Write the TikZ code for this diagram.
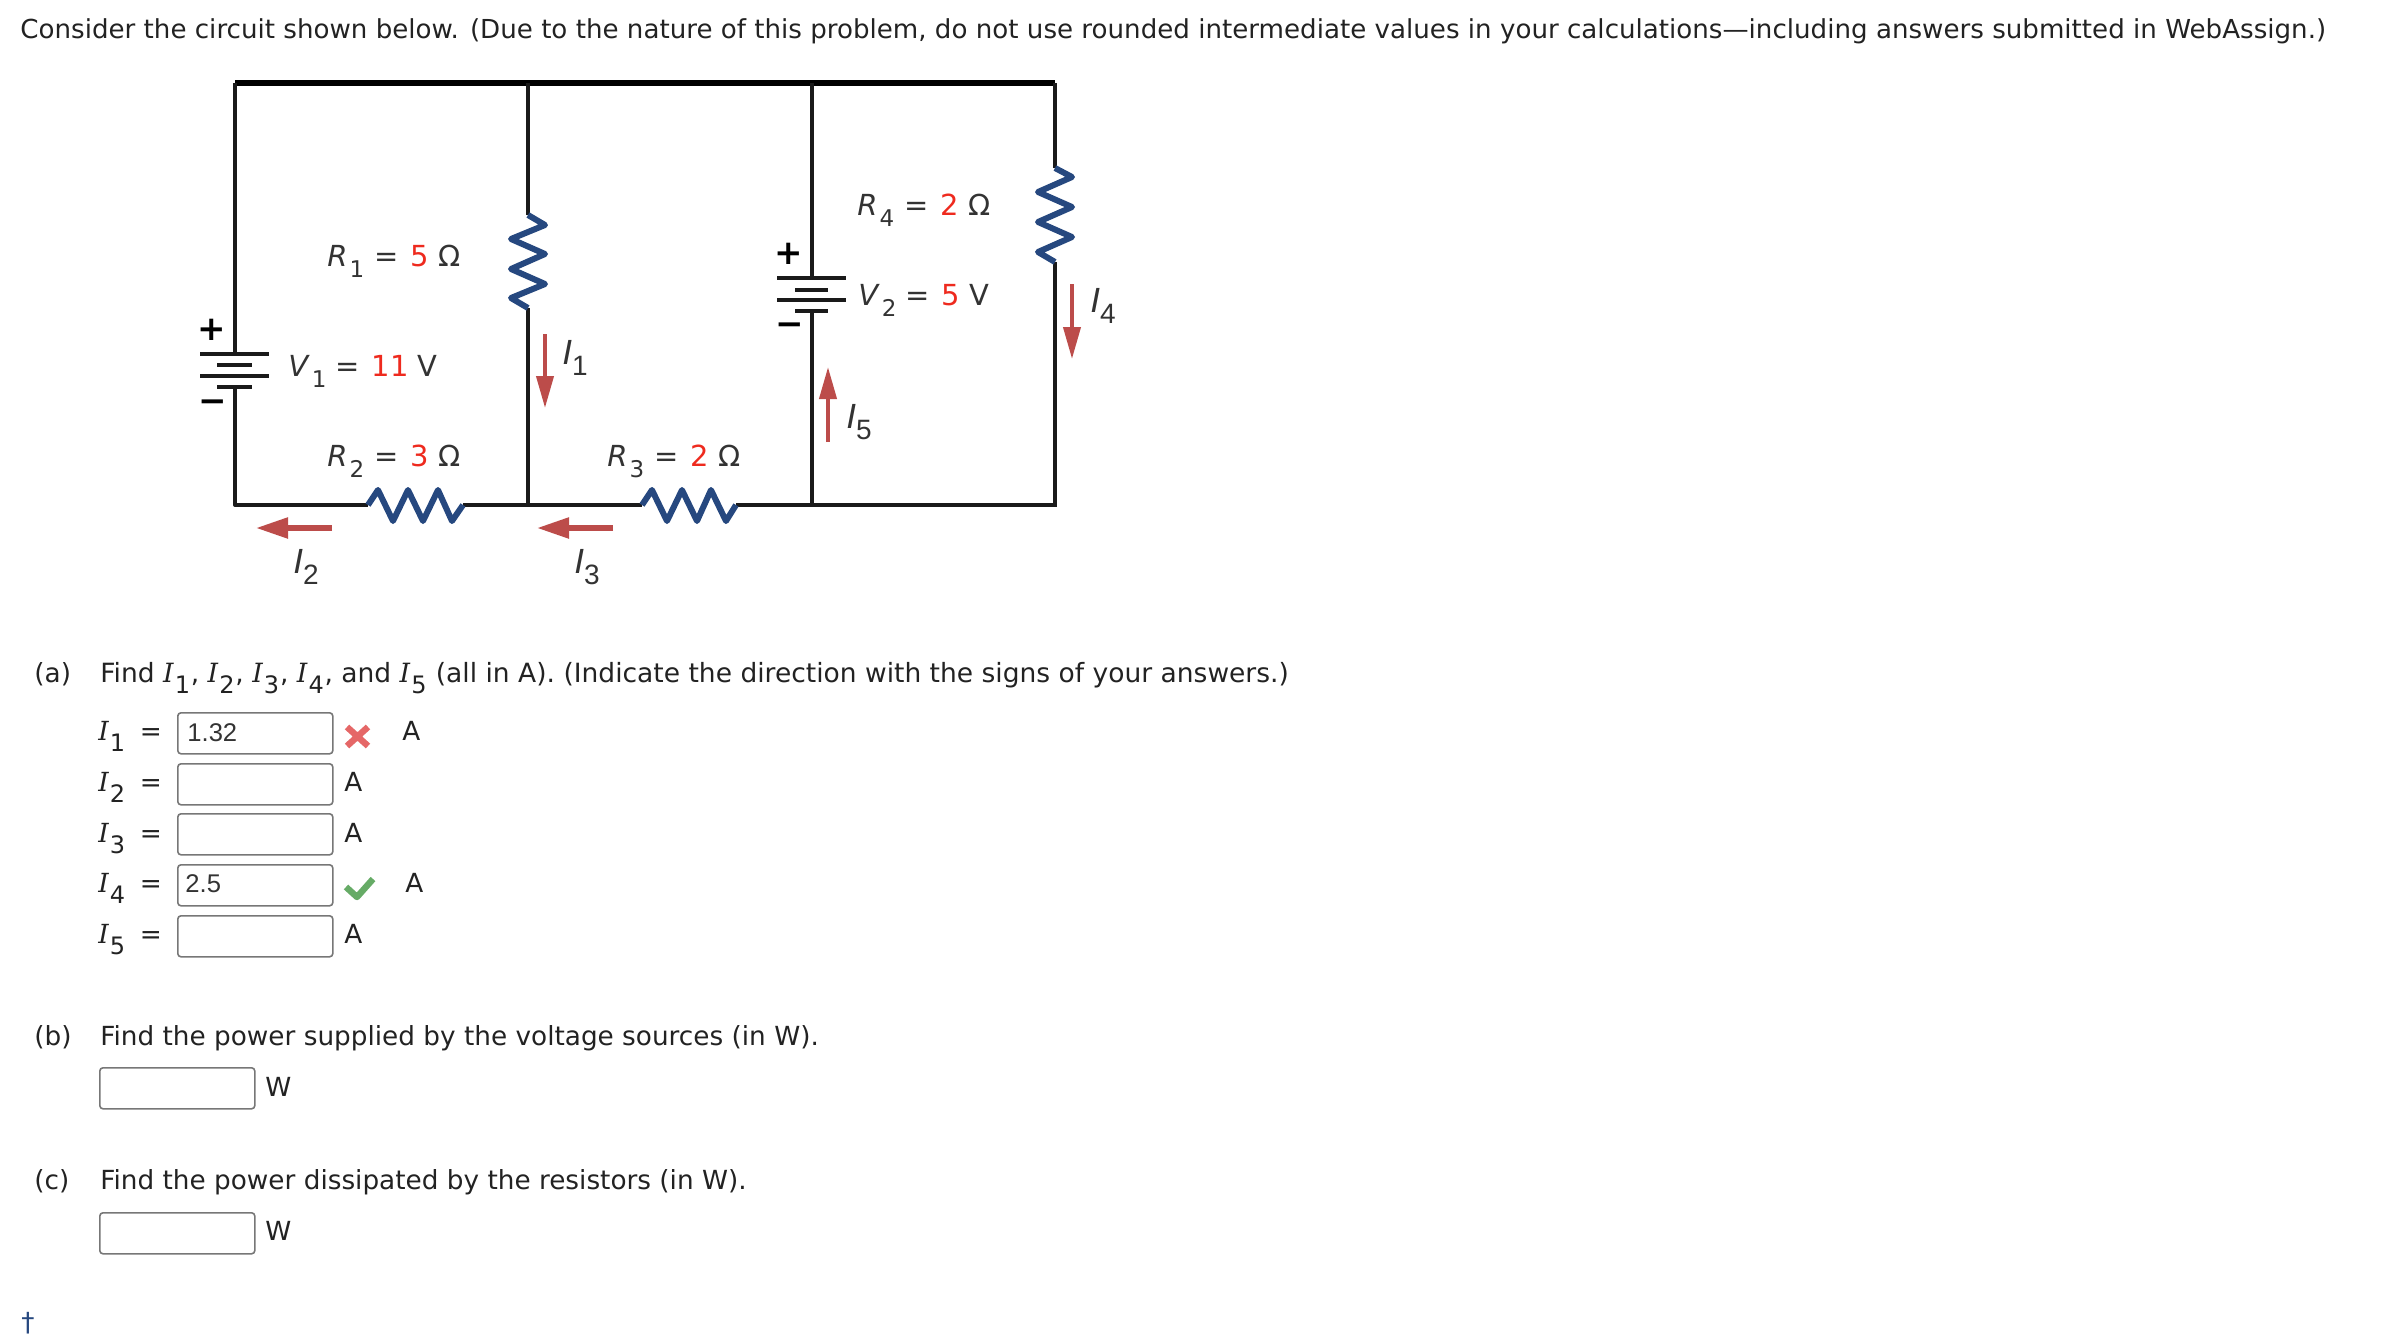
\documentclass[tikz,border=0pt]{standalone}
\usepackage{fontspec}
\usepackage{xcolor}
\setmainfont{DejaVu Sans}
\newfontfamily\ifont{DejaVu Serif}
\newfontfamily\boxfont{Liberation Sans}
\usetikzlibrary{arrows.meta}
\definecolor{wirecol}{HTML}{1A1A1A}
\definecolor{rescol}{HTML}{26487F}
\definecolor{arrcol}{HTML}{BC4C4A}
\definecolor{valcol}{HTML}{EE2A1E}
\definecolor{lblcol}{HTML}{333333}
\definecolor{txtcol}{HTML}{222222}
\definecolor{boxcol}{HTML}{777777}
\newcommand{\lsub}[1]{\raisebox{-0.38em}{\fontsize{11.5}{14}\selectfont #1}}
\newcommand{\csub}[1]{\raisebox{-0.34em}{\fontsize{14}{14}\selectfont #1}}
\newcommand{\isub}[1]{{\ifont\itshape I}\hspace{0.6pt}\raisebox{-0.45em}{\fontsize{12}{14}\selectfont #1}\hspace{0.4pt}}
\newcommand{\rval}[1]{\textcolor{valcol}{#1}}
\newcommand{\eqlbl}[4]{\makebox[23.5pt][l]{\textit{#1}\hspace{1pt}\lsub{#2}}=\hspace{6pt}\rval{#3}\hspace{4.5pt}#4}
\tikzset{
  wire/.style={wirecol, line width=2pt},
  topwire/.style={black, line width=3pt},
  plate/.style={wirecol, line width=1.7pt},
  res/.style={rescol, line width=3pt, line join=round},
  cur/.style={arrcol, line width=2pt, -{Triangle[length=16pt,width=8.5pt]}},
  hcur/.style={arrcol, line width=2.7pt, -{Triangle[length=16pt,width=10pt]}},
  sign/.style={font=\fontsize{17}{20}\bfseries\selectfont, text=black, inner sep=0pt},
  lbl/.style={anchor=base west, inner sep=0pt, text=lblcol, font=\fontsize{14.5}{18}\selectfont},
  txt/.style={anchor=base west, inner sep=0pt, text=txtcol, font=\fontsize{13.15}{16}\selectfont},
  cur lbl/.style={anchor=base west, inner sep=0pt, text=lblcol, font=\boxfont\fontsize{17.5}{18}\itshape\selectfont},
  ansbox/.style={draw=boxcol, line width=0.8pt, rounded corners=1.6pt, fill=white, anchor=north west, minimum width=77.5pt, minimum height=20.5pt, inner sep=0pt},
  ansval/.style={anchor=base west, inner sep=0pt, text=lblcol, font=\boxfont\fontsize{12.8}{14}\selectfont},
}
\begin{document}
\begin{tikzpicture}[x=0.5pt,y=-0.5pt]
  \useasboundingbox (0,0) rectangle (2406,1344);
  % circuit corners
  \coordinate (tl) at (235,83);
  \coordinate (tm) at (528,83);
  \coordinate (tb) at (812,83);
  \coordinate (tr) at (1055,83);
  \coordinate (bl) at (235,505);
  \coordinate (bm) at (528,505);
  \coordinate (bb) at (812,505);
  \coordinate (br) at (1055,505);
  % battery and resistor ends
  \coordinate (v1top) at (235,354);
  \coordinate (v1bot) at (235,387);
  \coordinate (v2top) at (812,278);
  \coordinate (v2bot) at (812,311);
  \coordinate (r1top) at (528,215);
  \coordinate (r1bot) at (528,308);
  \coordinate (r4top) at (1055,168);
  \coordinate (r4bot) at (1055,262);
  \coordinate (r2lft) at (368,505);
  \coordinate (r2rgt) at (463,505);
  \coordinate (r3lft) at (642,505);
  \coordinate (r3rgt) at (736,505);
  % wires
  \draw[topwire] (tl) -- (tr);
  \draw[wire, line join=round] (v1top) -- (tl);
  \draw[wire, line join=round] (v1bot) -- (bl) -- (r2lft);
  \draw[wire] (r2rgt) -- (r3lft) (tm) -- (r1top) (r1bot) -- (bm);
  \draw[wire] (r3rgt) -- (br) -- (r4bot) (r4top) -- (tr);
  \draw[wire] (tb) -- (v2top) (v2bot) -- (bb);
  % resistors
  \draw[res] (r1top) -- ++(17,10) -- ++(-34,14) -- ++(34,15) -- ++(-34,15) -- ++(34,15) -- ++(-34,14) -- (r1bot);
  \draw[res] (r4top) -- ++(17,9) -- ++(-34,15) -- ++(34,15) -- ++(-34,15) -- ++(34,15) -- ++(-34,15) -- (r4bot);
  \draw[res] (r2lft) -- ++(10,-15) -- ++(15,31) -- ++(15,-31) -- ++(15,31) -- ++(15,-31) -- ++(14,31) -- (r2rgt);
  \draw[res] (r3lft) -- ++(10,-15) -- ++(15,31) -- ++(15,-31) -- ++(15,31) -- ++(14,-31) -- ++(15,31) -- (r3rgt);
  % batteries
  \draw[plate] (200,354) -- (269,354) (217,365) -- (252,365) (200,376) -- (269,376) (217,387) -- (252,387);
  \draw[plate] (777,278) -- (846,278) (795,290) -- (828,290) (777,300) -- (846,300) (795,311) -- (828,311);
  \node[sign] (v1plus) at (212,330) {+};
  \node[sign] (v1minus) at (213,406) {\textminus};
  \node[sign] (v2plus) at (789,254) {+};
  \node[sign] (v2minus) at (790,329) {\textminus};
  % currents
  \coordinate (i1a) at (545,334);
  \coordinate (i1b) at (545,408);
  \coordinate (i2a) at (332,528);
  \coordinate (i2b) at (256,528);
  \coordinate (i3a) at (613,528);
  \coordinate (i3b) at (537,528);
  \coordinate (i4a) at (1072,284);
  \coordinate (i4b) at (1072,359);
  \coordinate (i5a) at (828,442);
  \coordinate (i5b) at (828,367);
  \draw[cur] (i1a) -- (i1b);
  \draw[hcur] (i2a) -- (i2b);
  \draw[hcur] (i3a) -- (i3b);
  \draw[cur] (i4a) -- (i4b);
  \draw[cur] (i5a) -- (i5b);
  \node[cur lbl] (i1lbl) at (562,364) {I\csub{\upshape 1}};
  \node[cur lbl] (i2lbl) at (293,573) {I\csub{\upshape 2}};
  \node[cur lbl] (i3lbl) at (574,573) {I\csub{\upshape 3}};
  \node[cur lbl] (i4lbl) at (1090,312) {I\csub{\upshape 4}};
  \node[cur lbl] (i5lbl) at (846,428) {I\csub{\upshape 5}};
  % values
  \node[lbl] (r1lbl) at (327,266) {\eqlbl{R}{1}{5}{Ω}};
  \node[lbl] (r2lbl) at (327,466) {\eqlbl{R}{2}{3}{Ω}};
  \node[lbl] (r3lbl) at (607,466) {\eqlbl{R}{3}{2}{Ω}};
  \node[lbl] (r4lbl) at (857,215) {\eqlbl{R}{4}{2}{Ω}};
  \node[lbl] (v1lbl) at (288,376) {\eqlbl{V}{1}{11}{V}};
  \node[lbl] (v2lbl) at (858,305) {\eqlbl{V}{2}{5}{V}};
  % question text
  \node[txt, font=\fontsize{13.06}{16}\selectfont] (intro) at (20,38) {Consider the circuit shown below. (Due to the nature of this problem, do not use rounded intermediate values in your calculations—including answers submitted in WebAssign.)};
  \node[txt] (parta) at (34,682) {(a)};
  \node[txt, font=\fontsize{13.25}{16}\selectfont] (partatxt) at (100,682) {Find \isub{1}, \isub{2}, \isub{3}, \isub{4}, and \isub{5} (all in A). (Indicate the direction with the signs of your answers.)};
  \foreach \n/\base in {1/740, 2/791, 3/842, 4/892, 5/943} {
    \node[txt] (lbl\n) at (98,\base) {\isub{\n}};
    \node[txt, anchor=base] (eq\n) at (151,\base) {=};
  }
  \foreach \n/\top in {1/712, 2/763, 3/813, 4/864, 5/915} {
    \node[ansbox] (box\n) at (177,\top) {};
  }
  \node[ansval] (val1) at (187,741) {1.32};
  \node[ansval] (val4) at (185,892) {2.5};
  \draw[line width=3.2pt, color=red!55!white!90!black] (347,727) -- (368,746) (368,727) -- (347,746);
  \draw[line width=3.2pt, color=green!45!black!60!white, line join=round] (346,887) -- (357,897) -- (373,879);
  \node[txt] (unit1) at (402,740) {A};
  \node[txt] (unit2) at (344,791) {A};
  \node[txt] (unit3) at (344,842) {A};
  \node[txt] (unit4) at (405,892) {A};
  \node[txt] (unit5) at (344,943) {A};
  \node[txt] (partb) at (34,1045) {(b)};
  \node[txt] (partbtxt) at (100,1045) {Find the power supplied by the voltage sources (in W).};
  \node[ansbox] (boxb) at (99,1067) {};
  \node[txt] (unitb) at (265,1096) {W};
  \node[txt] (partc) at (34,1189) {(c)};
  \node[txt] (partctxt) at (100,1189) {Find the power dissipated by the resistors (in W).};
  \node[ansbox] (boxc) at (99,1212) {};
  \node[txt] (unitc) at (265,1240) {W};
  \node[txt, text=rescol] (dagger) at (21,1331) {†};
\end{tikzpicture}
\end{document}
